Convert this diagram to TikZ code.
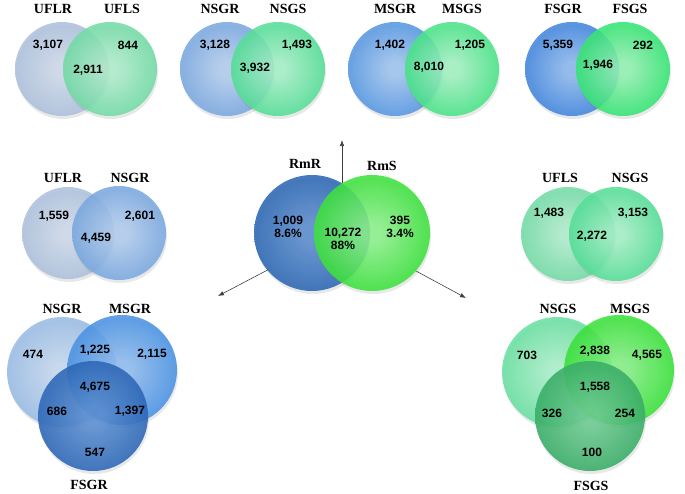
\documentclass[tikz,border=0pt]{standalone}
\usepackage{fontspec}
\setmainfont{Liberation Serif}
\newfontfamily\numfont{Liberation Sans}
\usetikzlibrary{shadows,arrows.meta}
\makeatletter
\pgfdeclareradialshading[tikz@radial@inner,tikz@radial@outer]{vennball}{\pgfpointorigin}{color(0bp)=(tikz@radial@inner); color(4bp)=(tikz@radial@inner); color(24bp)=(tikz@radial@inner!35!tikz@radial@outer); color(50bp)=(tikz@radial@outer)}
\makeatother
\definecolor{uflrO}{HTML}{9DB4D6}\definecolor{uflrI}{HTML}{CCD8E8}
\definecolor{uflsO}{HTML}{55D493}\definecolor{uflsI}{HTML}{AEEBCB}
\definecolor{nsgrO}{HTML}{5F97DA}\definecolor{nsgrI}{HTML}{B0CBEC}
\definecolor{nsgsO}{HTML}{2FD780}\definecolor{nsgsI}{HTML}{A2EEC5}
\definecolor{msgrO}{HTML}{3482DC}\definecolor{msgrI}{HTML}{9CC2EE}
\definecolor{msgsO}{HTML}{1EDD6C}\definecolor{msgsI}{HTML}{A0F0C0}
\definecolor{fsgrO}{HTML}{1E6ED8}\definecolor{fsgrI}{HTML}{8AB6EC}
\definecolor{fsgsO}{HTML}{08DF56}\definecolor{fsgsI}{HTML}{90F0B0}
\definecolor{rmrO}{HTML}{1454A8}\definecolor{rmrI}{HTML}{5A8CCC}
\definecolor{rmsO}{HTML}{16DA16}\definecolor{rmsI}{HTML}{8AF08A}
\definecolor{tnsgrO}{HTML}{84AEDF}\definecolor{tnsgrI}{HTML}{C4D7EE}
\definecolor{tmsgrO}{HTML}{287EDE}\definecolor{tmsgrI}{HTML}{8EBBEE}
\definecolor{tfsgrO}{HTML}{1553AA}\definecolor{tfsgrI}{HTML}{5A8ED2}
\definecolor{tnsgsO}{HTML}{4AD98E}\definecolor{tnsgsI}{HTML}{A8EEC8}
\definecolor{tmsgsO}{HTML}{14DC14}\definecolor{tmsgsI}{HTML}{84EE84}
\definecolor{tfsgsO}{HTML}{1FA052}\definecolor{tfsgsI}{HTML}{6CCA90}

\begin{document}
\begin{tikzpicture}[x=1pt,y=-1pt,
    venn/.style={circle,inner sep=0pt,minimum size=#1,fill opacity=.88,draw=none,
      drop shadow={opacity=.18,shadow xshift=1pt,shadow yshift=-3pt}},
    vc/.style={inner color=#1I,outer color=#1O,shading=vennball},
    lab/.style={font=\bfseries\fontsize{14}{14}\selectfont},
    num/.style={font=\numfont\bfseries\fontsize{12}{13}\selectfont,align=center},
    axis/.style={black!75,semithick,-{Latex[length=6pt,width=4.5pt]}}]
    \useasboundingbox (0,0) rectangle (685,493);
    \coordinate (hub) at (342,231);
    \coordinate (up) at (342,140);
    \coordinate (dl) at (218,296);
    \coordinate (dr) at (466,298);
    \draw[axis,shorten <=48pt] (hub) -- (up);
    \draw[axis,shorten <=83pt] (hub) -- (dl);
    \draw[axis,shorten <=83pt] (hub) -- (dr);

    \node[venn=94pt,vc=uflr] (uflr1) at (62,69) {};
    \node[venn=94pt,vc=ufls] (ufls1) at (110,69) {};
    \node[venn=94pt,vc=nsgr] (nsgr2) at (227,69) {};
    \node[venn=94pt,vc=nsgs] (nsgs2) at (278,69) {};
    \node[venn=94pt,vc=msgr] (msgr3) at (395,69) {};
    \node[venn=94pt,vc=msgs] (msgs3) at (452,69) {};
    \node[venn=94pt,vc=fsgr] (fsgr4) at (572,69) {};
    \node[venn=94pt,vc=fsgs] (fsgs4) at (623,69) {};

    \node[venn=116pt,vc=rmr] (rmr) at (312,233) {};
    \node[venn=116pt,vc=rms] (rms) at (372,233) {};

    \node[venn=92pt,vc=uflr] (uflr5) at (68,233) {};
    \node[venn=94pt,vc=nsgr] (nsgr5) at (119,233) {};
    \node[venn=94pt,vc=ufls] (ufls6) at (568,234) {};
    \node[venn=94pt,vc=nsgs] (nsgs6) at (616,234) {};

    \node[venn=110pt,vc=tnsgr] (nsgr7) at (62,372) {};
    \node[venn=110pt,vc=tmsgr] (msgr7) at (122,370) {};
    \node[venn=110pt,vc=tfsgr] (fsgr7) at (93,416) {};
    \node[venn=110pt,vc=tnsgs] (nsgs8) at (557,372) {};
    \node[venn=110pt,vc=tmsgs] (msgs8) at (619,370) {};
    \node[venn=110pt,vc=tfsgs] (fsgs8) at (590,416) {};

    \node[lab] (l1a) at (53,9) {UFLR};
    \node[lab] (l1b) at (122,9) {UFLS};
    \node[lab] (l2a) at (220,9) {NSGR};
    \node[lab] (l2b) at (288,9) {NSGS};
    \node[lab] (l3a) at (395,9) {MSGR};
    \node[lab] (l3b) at (462,9) {MSGS};
    \node[lab] (l4a) at (563,9) {FSGR};
    \node[lab] (l4b) at (630,9) {FSGS};
    \node[lab] (lrmr) at (305,164) {RmR};
    \node[lab] (lrms) at (382,166) {RmS};
    \node[lab] (l5a) at (63,178) {UFLR};
    \node[lab] (l5b) at (130,178) {NSGR};
    \node[lab] (l6a) at (560,178) {UFLS};
    \node[lab] (l6b) at (630,178) {NSGS};
    \node[lab] (l7a) at (62,309) {NSGR};
    \node[lab] (l7b) at (130,309) {MSGR};
    \node[lab] (l7c) at (89,485) {FSGR};
    \node[lab] (l8a) at (558,309) {NSGS};
    \node[lab] (l8b) at (630,309) {MSGS};
    \node[lab] (l8c) at (591,486) {FSGS};

    \node[num] (n1a) at (48,45) {3,107};
    \node[num] (n1b) at (128,45) {844};
    \node[num] (n1c) at (88,70) {2,911};
    \node[num] (n2a) at (215,45) {3,128};
    \node[num] (n2b) at (297,45) {1,493};
    \node[num] (n2c) at (255,68) {3,932};
    \node[num] (n3a) at (390,45) {1,402};
    \node[num] (n3b) at (470,45) {1,205};
    \node[num] (n3c) at (429,67) {8,010};
    \node[num] (n4a) at (558,45) {5,359};
    \node[num] (n4b) at (643,45) {292};
    \node[num] (n4c) at (598,65) {1,946};
    \node[num] (nrmr) at (288,227) {1,009\\8.6\%};
    \node[num] (nboth) at (343,239) {10,272\\88\%};
    \node[num] (nrms) at (400,227) {395\\3.4\%};
    \node[num] (n5a) at (54,216) {1,559};
    \node[num] (n5b) at (140,216) {2,601};
    \node[num] (n5c) at (96,238) {4,459};
    \node[num] (n6a) at (549,213) {1,483};
    \node[num] (n6b) at (633,213) {3,153};
    \node[num] (n6c) at (592,236) {2,272};
    \node[num] (n7a) at (33,354) {474};
    \node[num] (n7b) at (95,350) {1,225};
    \node[num] (n7c) at (152,354) {2,115};
    \node[num] (n7d) at (95,387) {4,675};
    \node[num] (n7e) at (57,411) {686};
    \node[num] (n7f) at (130,411) {1,397};
    \node[num] (n7g) at (95,452) {547};
    \node[num] (n8a) at (527,355) {703};
    \node[num] (n8b) at (595,351) {2,838};
    \node[num] (n8c) at (647,355) {4,565};
    \node[num] (n8d) at (595,387) {1,558};
    \node[num] (n8e) at (552,413) {326};
    \node[num] (n8f) at (625,413) {254};
    \node[num] (n8g) at (592,452) {100};
\end{tikzpicture}
\end{document}
